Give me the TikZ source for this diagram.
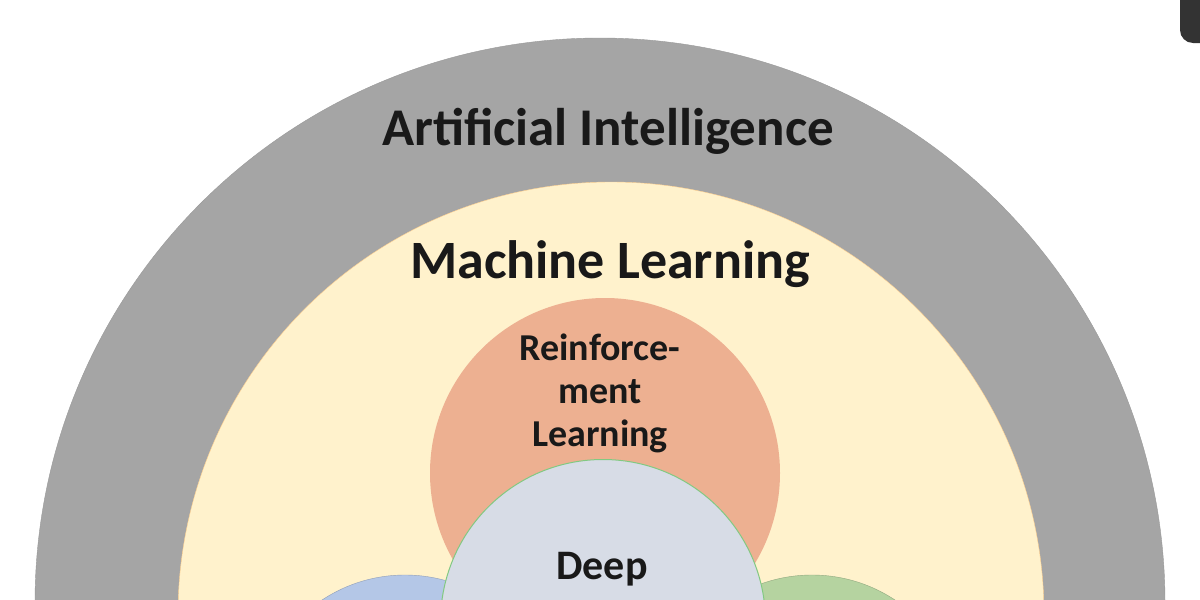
\documentclass[tikz,border=0pt]{standalone}
\usepackage{fontspec}
\setmainfont{Carlito}
\definecolor{aigray}{HTML}{A5A5A5}
\definecolor{mlyel}{HTML}{FFF2CC}
\definecolor{rlred}{HTML}{EDB091}
\definecolor{dlgray}{HTML}{D7DCE6}
\definecolor{bl}{HTML}{B4C7E7}
\definecolor{gr}{HTML}{B5D3A0}
\begin{document}
\begin{tikzpicture}[x=1pt,y=-1pt,
  ring/.style={circle,inner sep=0pt},
  lbl/.style={font=\bfseries,text=black!90,align=center}]
\useasboundingbox (0,0) rectangle (1200,600);
\begin{scope}
\clip (0,0) rectangle (1200,600);
\fill[white] (0,0) rectangle (1200,600);
\node[ring,fill=aigray,draw=gray!80,minimum size=1130] (ai) at (600,603) {};
\node[ring,fill=mlyel,draw=mlyel!70!orange,minimum size=866] (ml) at (611,615) {};
\node[ring,fill=rlred,minimum size=350] (rl) at (605,473) {};
\node[ring,fill=bl,draw=bl!80!black,minimum size=300] (bc) at (405,725) {};
\node[ring,fill=gr,draw=gr!80!black,minimum size=300] (gc) at (812,725) {};
\node[ring,fill=dlgray,draw=green!40!gray!70,line width=1pt,minimum size=325] (dl) at (603,622) {};
\fill[black!80] (1180,0) -- (1180,30) arc[start angle=180,end angle=90,radius=13] -- (1200,43) -- (1200,0) -- cycle;
\end{scope}
\node[lbl,font=\bfseries\fontsize{53}{60}\selectfont] (tai) at (608,131) {Artificial Intelligence};
\node[lbl,font=\bfseries\fontsize{54}{60}\selectfont] (tml) at (610,264) {Machine Learning};
\node[lbl,font=\bfseries\fontsize{38}{43}\selectfont] (trl) at (600,393) {Reinforce-\\ment\\Learning};
\node[lbl,font=\bfseries\fontsize{42}{48}\selectfont] (tdl) at (602,569) {Deep};
\end{tikzpicture}
\end{document}
